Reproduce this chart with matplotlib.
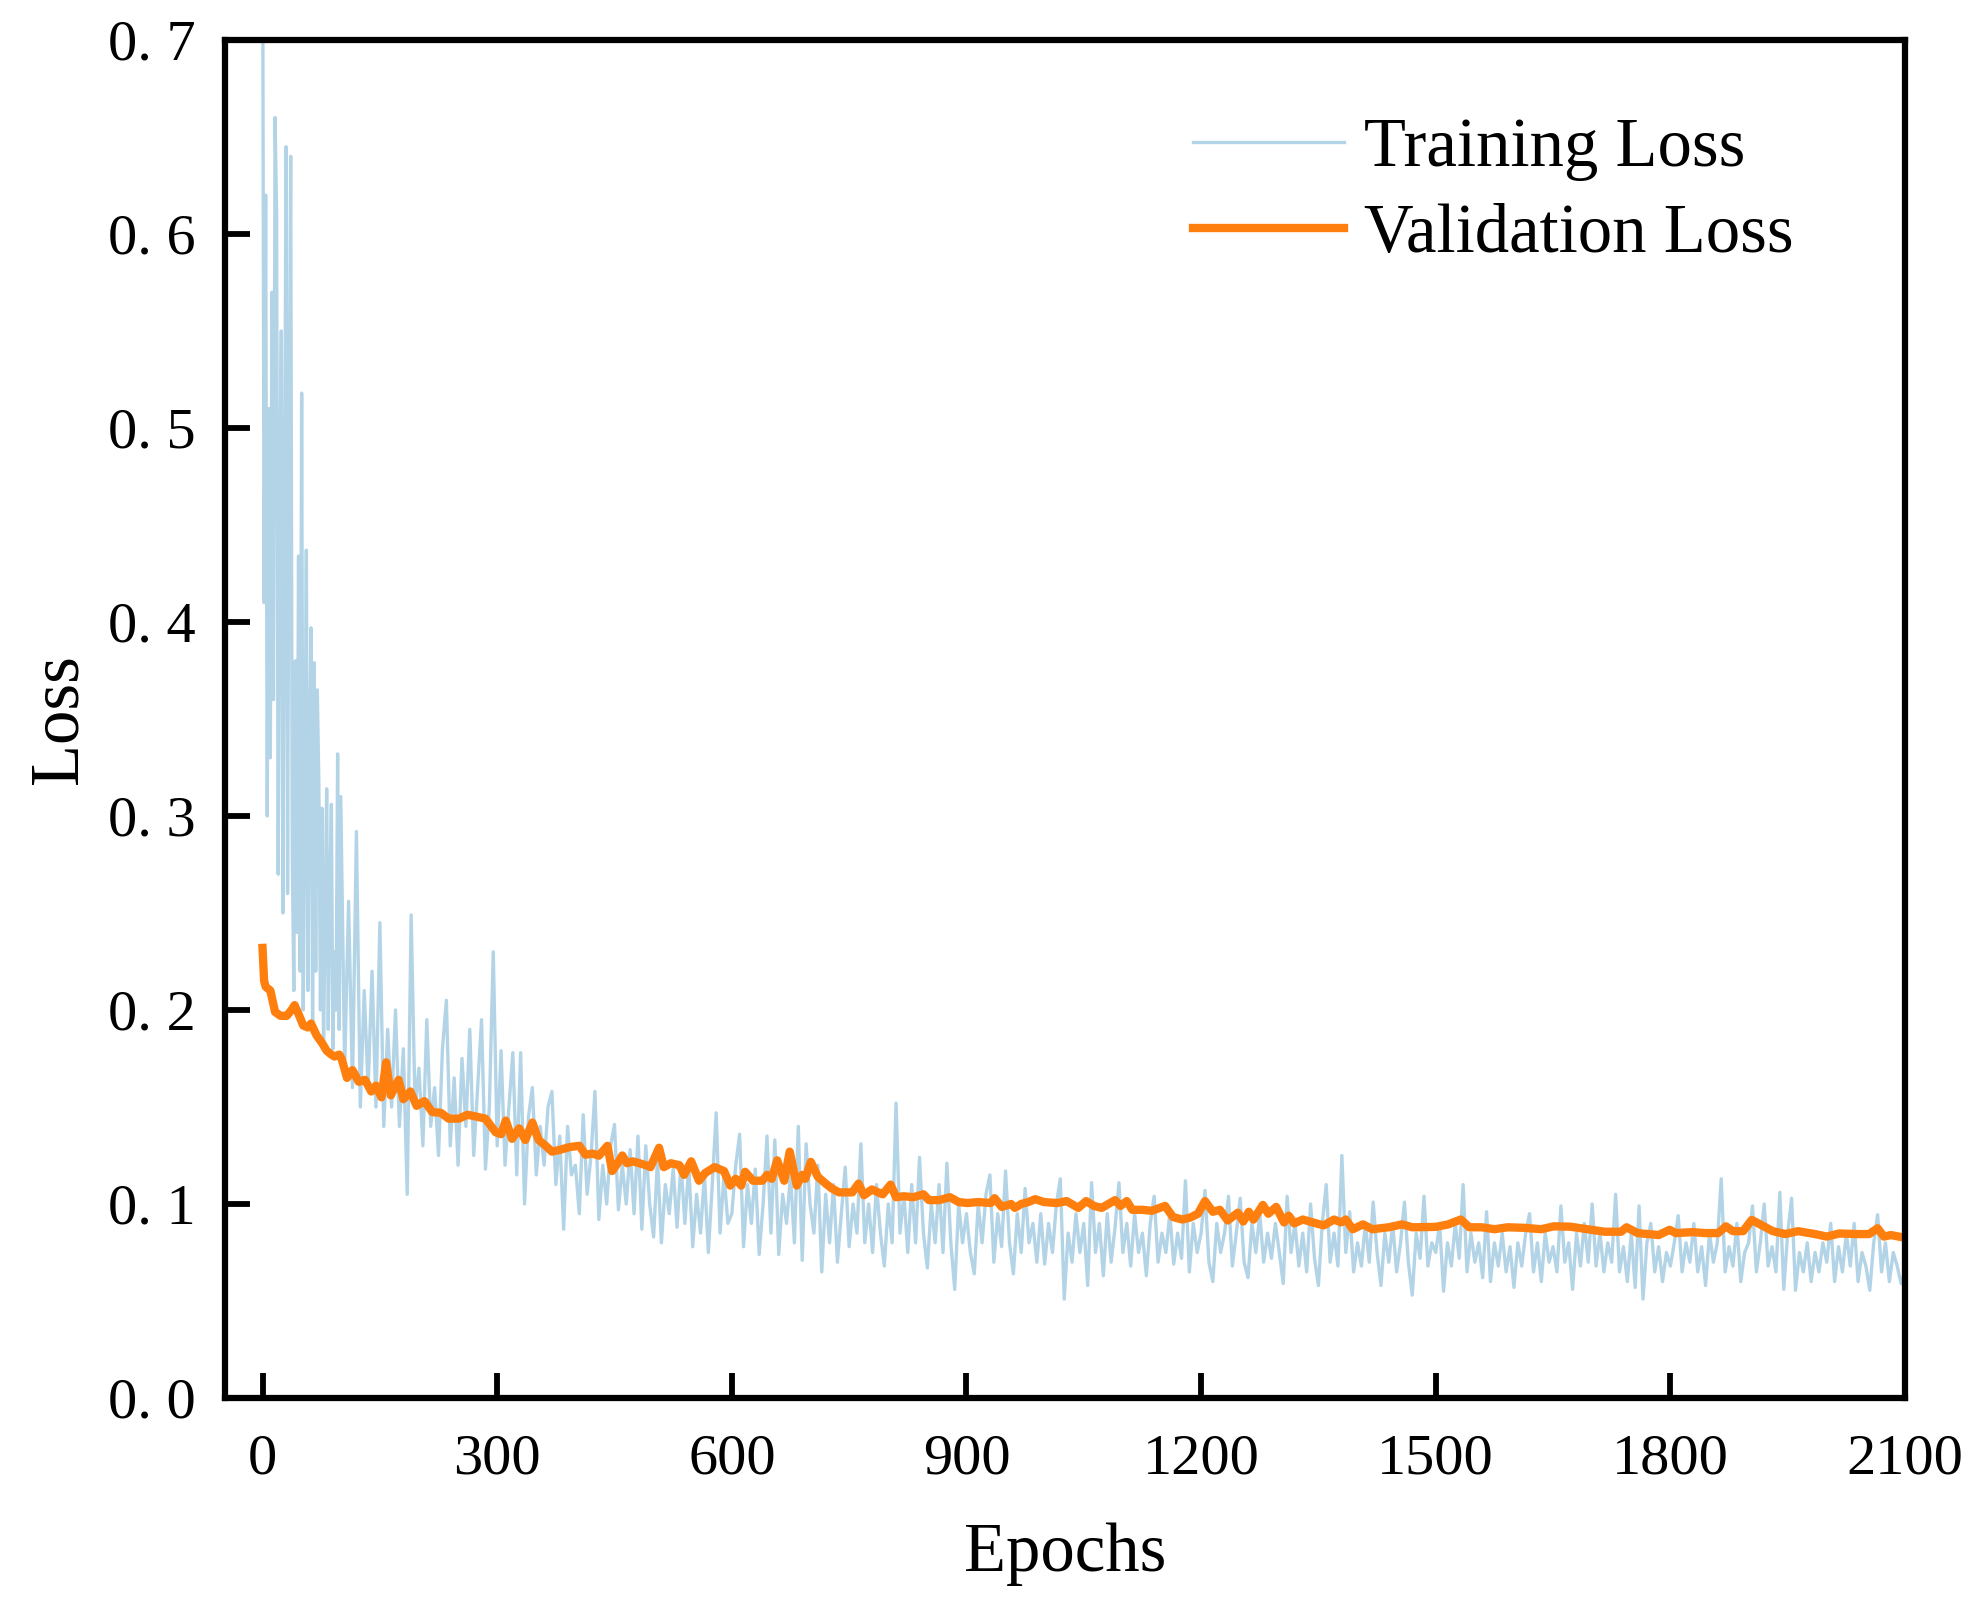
import matplotlib
matplotlib.use("Agg")
import matplotlib.pyplot as plt
import numpy as np

# ---------------- data ----------------
# Training loss, epochs 0..98 every 2 epochs
train_epochs_early = list(range(0, 100, 2))
train_loss_early = [0.78, 0.41, 0.62, 0.30, 0.51, 0.33, 0.57, 0.36, 0.66, 0.61,
                    0.27, 0.47, 0.55, 0.25, 0.44, 0.645, 0.26, 0.50, 0.64, 0.28,
                    0.21, 0.38, 0.24, 0.434, 0.22, 0.518, 0.20, 0.30, 0.437, 0.21,
                    0.33, 0.397, 0.19, 0.379, 0.22, 0.365, 0.317, 0.20, 0.304, 0.18,
                    0.25, 0.314, 0.19, 0.26, 0.306, 0.18, 0.23, 0.20, 0.332, 0.19]

# Training loss, epochs 100..2100 every 5 epochs (segments of 100 epochs)
train_loss_100 = [0.31, 0.17, 0.256, 0.16, 0.292, 0.15, 0.21, 0.16, 0.22, 0.15,
                  0.245, 0.14, 0.19, 0.15, 0.20, 0.14, 0.18, 0.105, 0.249, 0.15]
train_loss_200 = [0.17, 0.13, 0.195, 0.14, 0.16, 0.125, 0.18, 0.205, 0.13, 0.165,
                  0.12, 0.175, 0.14, 0.19, 0.125, 0.16, 0.195, 0.118, 0.15, 0.23]
train_loss_300 = [0.13, 0.179, 0.12, 0.15, 0.178, 0.115, 0.178, 0.10, 0.145, 0.16,
                  0.115, 0.14, 0.12, 0.15, 0.158, 0.11, 0.135, 0.087, 0.14, 0.115]
train_loss_400 = [0.12, 0.095, 0.146, 0.105, 0.125, 0.158, 0.092, 0.12, 0.10, 0.13,
                  0.141, 0.097, 0.12, 0.10, 0.128, 0.095, 0.135, 0.087, 0.13, 0.10]
train_loss_500 = [0.083, 0.123, 0.08, 0.11, 0.095, 0.118, 0.088, 0.121, 0.09, 0.12,
                  0.078, 0.105, 0.085, 0.115, 0.075, 0.11, 0.147, 0.085, 0.115, 0.09]
train_loss_600 = [0.095, 0.12, 0.136, 0.078, 0.11, 0.09, 0.118, 0.074, 0.10, 0.135,
                  0.085, 0.133, 0.074, 0.105, 0.09, 0.115, 0.08, 0.14, 0.071, 0.131]
train_loss_700 = [0.10, 0.085, 0.12, 0.065, 0.105, 0.08, 0.11, 0.07, 0.095, 0.119,
                  0.078, 0.10, 0.085, 0.131, 0.08, 0.10, 0.075, 0.11, 0.085, 0.068]
train_loss_800 = [0.10, 0.08, 0.152, 0.085, 0.105, 0.075, 0.11, 0.08, 0.124, 0.085,
                  0.067, 0.10, 0.08, 0.11, 0.075, 0.121, 0.08, 0.056, 0.10, 0.08]
train_loss_900 = [0.095, 0.075, 0.064, 0.10, 0.08, 0.105, 0.115, 0.07, 0.095, 0.078,
                  0.117, 0.08, 0.064, 0.095, 0.075, 0.108, 0.08, 0.09, 0.07, 0.095]
train_loss_1000 = [0.069, 0.09, 0.075, 0.10, 0.113, 0.051, 0.085, 0.07, 0.095, 0.075,
                   0.09, 0.058, 0.111, 0.075, 0.09, 0.063, 0.095, 0.07, 0.088, 0.111]
train_loss_1100 = [0.075, 0.09, 0.068, 0.095, 0.075, 0.085, 0.063, 0.09, 0.104, 0.07,
                   0.085, 0.075, 0.095, 0.069, 0.085, 0.072, 0.112, 0.065, 0.09, 0.075]
train_loss_1200 = [0.085, 0.107, 0.07, 0.06, 0.09, 0.075, 0.085, 0.104, 0.068, 0.085,
                   0.103, 0.07, 0.062, 0.09, 0.075, 0.095, 0.07, 0.085, 0.072, 0.09]
train_loss_1300 = [0.075, 0.059, 0.104, 0.075, 0.09, 0.068, 0.085, 0.065, 0.10, 0.072,
                   0.058, 0.09, 0.11, 0.07, 0.085, 0.068, 0.125, 0.075, 0.096, 0.065]
train_loss_1400 = [0.08, 0.068, 0.09, 0.07, 0.101, 0.075, 0.058, 0.085, 0.07, 0.09,
                   0.065, 0.08, 0.101, 0.07, 0.053, 0.085, 0.072, 0.104, 0.068, 0.08]
train_loss_1500 = [0.075, 0.09, 0.055, 0.08, 0.068, 0.09, 0.072, 0.11, 0.065, 0.085,
                   0.07, 0.08, 0.062, 0.096, 0.06, 0.08, 0.068, 0.085, 0.065, 0.078]
train_loss_1600 = [0.057, 0.08, 0.068, 0.085, 0.095, 0.065, 0.08, 0.06, 0.085, 0.07,
                   0.078, 0.065, 0.099, 0.07, 0.08, 0.056, 0.085, 0.068, 0.09, 0.07]
train_loss_1700 = [0.10, 0.068, 0.085, 0.065, 0.08, 0.07, 0.105, 0.065, 0.078, 0.06,
                   0.085, 0.057, 0.099, 0.051, 0.08, 0.09, 0.065, 0.078, 0.06, 0.075]
train_loss_1800 = [0.068, 0.08, 0.094, 0.065, 0.08, 0.07, 0.09, 0.065, 0.078, 0.058,
                   0.085, 0.07, 0.08, 0.113, 0.065, 0.078, 0.068, 0.09, 0.06, 0.075]
train_loss_1900 = [0.08, 0.099, 0.065, 0.08, 0.10, 0.068, 0.078, 0.065, 0.106, 0.056,
                   0.085, 0.103, 0.0555, 0.075, 0.065, 0.08, 0.06, 0.075, 0.065, 0.08]
train_loss_2000 = [0.07, 0.09, 0.06, 0.078, 0.065, 0.085, 0.068, 0.09, 0.06, 0.075,
                   0.068, 0.0555, 0.08, 0.0945, 0.065, 0.08, 0.06, 0.075, 0.068, 0.059,
                   0.065]
train_epochs_late = list(range(100, 2101, 5))

# Validation loss (epoch, value)
val_epochs = [0, 2, 4, 10, 16, 23, 31, 37, 41, 47, 52, 58, 62, 69, 76, 82, 88, 92, 98,
              101, 108, 115, 123, 131, 139, 145, 152, 158, 164, 174, 180, 189, 197,
              207, 217, 228, 238, 251, 262, 274, 285, 298, 305, 311, 319, 328, 336,
              345, 353, 362, 370, 381, 392, 405, 413, 422, 430, 441, 447, 454, 460,
              466, 473, 482, 490, 496, 507, 513, 522, 533, 539, 548, 558, 566, 578,
              590, 598, 605, 612, 617, 627, 639, 645, 651, 658, 667, 674, 683, 690,
              694, 701, 710, 720, 728, 737, 746, 754, 762, 769, 779, 787, 793, 803,
              810, 820, 832, 845, 852, 865, 879, 890, 901, 915, 931, 936, 945, 957,
              962, 970, 979, 988, 999, 1016, 1028, 1043, 1053, 1063, 1073, 1090,
              1097, 1105, 1112, 1125, 1137, 1154, 1164, 1176, 1186, 1196, 1205,
              1215, 1224, 1234, 1247, 1254, 1261, 1267, 1279, 1286, 1296, 1306,
              1312, 1319, 1330, 1349, 1357, 1370, 1379, 1385, 1394, 1407, 1419,
              1440, 1457, 1470, 1500, 1516, 1532, 1543, 1559, 1575, 1592, 1614,
              1635, 1651, 1672, 1694, 1716, 1737, 1744, 1758, 1785, 1799, 1807,
              1828, 1845, 1861, 1871, 1880, 1893, 1904, 1917, 1931, 1947, 1963,
              1985, 2000, 2016, 2038, 2054, 2065, 2073, 2082, 2097, 2100]
val_loss = [0.232, 0.215, 0.212, 0.210, 0.199, 0.197, 0.197, 0.200, 0.2025, 0.197,
            0.192, 0.191, 0.193, 0.187, 0.183, 0.179, 0.177, 0.176, 0.177,
            0.175, 0.165, 0.169, 0.163, 0.164, 0.158, 0.161, 0.155, 0.173, 0.156,
            0.164, 0.154, 0.158, 0.1506, 0.153, 0.1474, 0.147, 0.144, 0.144, 0.146,
            0.145, 0.144, 0.137, 0.136, 0.143, 0.1336, 0.139, 0.133, 0.142, 0.133,
            0.130, 0.127, 0.128, 0.1293, 0.130, 0.1254, 0.126, 0.1249, 0.130,
            0.117, 0.121, 0.125, 0.121, 0.122, 0.121, 0.120, 0.119, 0.129, 0.119,
            0.121, 0.120, 0.115, 0.122, 0.112, 0.116, 0.119, 0.117, 0.1095, 0.113,
            0.1095, 0.1166, 0.112, 0.112, 0.115, 0.113, 0.1225, 0.112, 0.127,
            0.1095, 0.115, 0.113, 0.1217, 0.114, 0.1105, 0.108, 0.106, 0.106,
            0.106, 0.1105, 0.1045, 0.1075, 0.106, 0.105, 0.110, 0.1035, 0.104,
            0.1035, 0.105, 0.102, 0.102, 0.1035, 0.101, 0.1005, 0.101, 0.1005,
            0.103, 0.0985, 0.100, 0.098, 0.100, 0.101, 0.1025, 0.101, 0.1005,
            0.1015, 0.098, 0.1015, 0.099, 0.098, 0.102, 0.099, 0.1015, 0.097,
            0.097, 0.0965, 0.099, 0.0933, 0.092, 0.093, 0.095, 0.1015, 0.096,
            0.097, 0.0915, 0.0955, 0.091, 0.096, 0.092, 0.0995, 0.095, 0.0985,
            0.0905, 0.094, 0.090, 0.092, 0.0898, 0.089, 0.092, 0.0905, 0.092,
            0.087, 0.0895, 0.087, 0.088, 0.0895, 0.088, 0.0882, 0.0895, 0.092,
            0.088, 0.088, 0.087, 0.088, 0.0877, 0.087, 0.0885, 0.0883, 0.087,
            0.0857, 0.0857, 0.088, 0.085, 0.084, 0.0867, 0.085, 0.0855, 0.085,
            0.085, 0.0885, 0.086, 0.086, 0.0918, 0.089, 0.086, 0.0845, 0.086,
            0.0845, 0.0832, 0.0848, 0.0845, 0.0845, 0.0875, 0.0832, 0.084, 0.0828,
            0.083]

y_ticks = [0.0, 0.1, 0.2, 0.3, 0.4, 0.5, 0.6, 0.7]
y_tick_labels = ["0. 0", "0. 1", "0. 2", "0. 3", "0. 4", "0. 5", "0. 6", "0. 7"]
x_ticks = [0, 300, 600, 900, 1200, 1500, 1800, 2100]

# ---------------- plot ----------------
plt.rcParams['font.family'] = ['Liberation Serif', 'DejaVu Serif']

train_epochs = train_epochs_early + train_epochs_late
train_loss = (train_loss_early + train_loss_100 + train_loss_200 + train_loss_300 +
              train_loss_400 + train_loss_500 + train_loss_600 + train_loss_700 +
              train_loss_800 + train_loss_900 + train_loss_1000 + train_loss_1100 +
              train_loss_1200 + train_loss_1300 + train_loss_1400 + train_loss_1500 +
              train_loss_1600 + train_loss_1700 + train_loss_1800 + train_loss_1900 +
              train_loss_2000)

W, H = 1982, 1607
fig = plt.figure(figsize=(W / 300, H / 300), dpi=300)
ax = fig.add_axes([225 / W, 1 - 1398 / H, 1680 / W, 1358 / H])

ax.plot(train_epochs, train_loss, color='#b3d4e7', lw=0.8, label='Training Loss')
ax.plot(val_epochs, val_loss, color='#ff7f0e', lw=2.0, label='Validation Loss')

ax.set_xlim(-48, 2100)
ax.set_ylim(0, 0.7)
ax.set_xticks(x_ticks)
ax.set_yticks(y_ticks)
ax.set_yticklabels(y_tick_labels)
ax.tick_params(direction='in', length=6, width=1.4, labelsize=14, pad=7,
               top=False, right=False)
ax.tick_params(axis='x', pad=8.5)
for s in ax.spines.values():
    s.set_linewidth(1.5)

ax.set_xlabel('Epochs', fontsize=16.5, labelpad=9)
ax.set_ylabel('Loss', fontsize=16.5, labelpad=4)

leg = ax.legend(loc='upper right', bbox_to_anchor=(0.934, 0.943), frameon=False,
                fontsize=16.5, handlelength=2.2, handletextpad=0.3,
                labelspacing=0.33, borderpad=0, borderaxespad=0)

fig.savefig('out.png', dpi=300)
